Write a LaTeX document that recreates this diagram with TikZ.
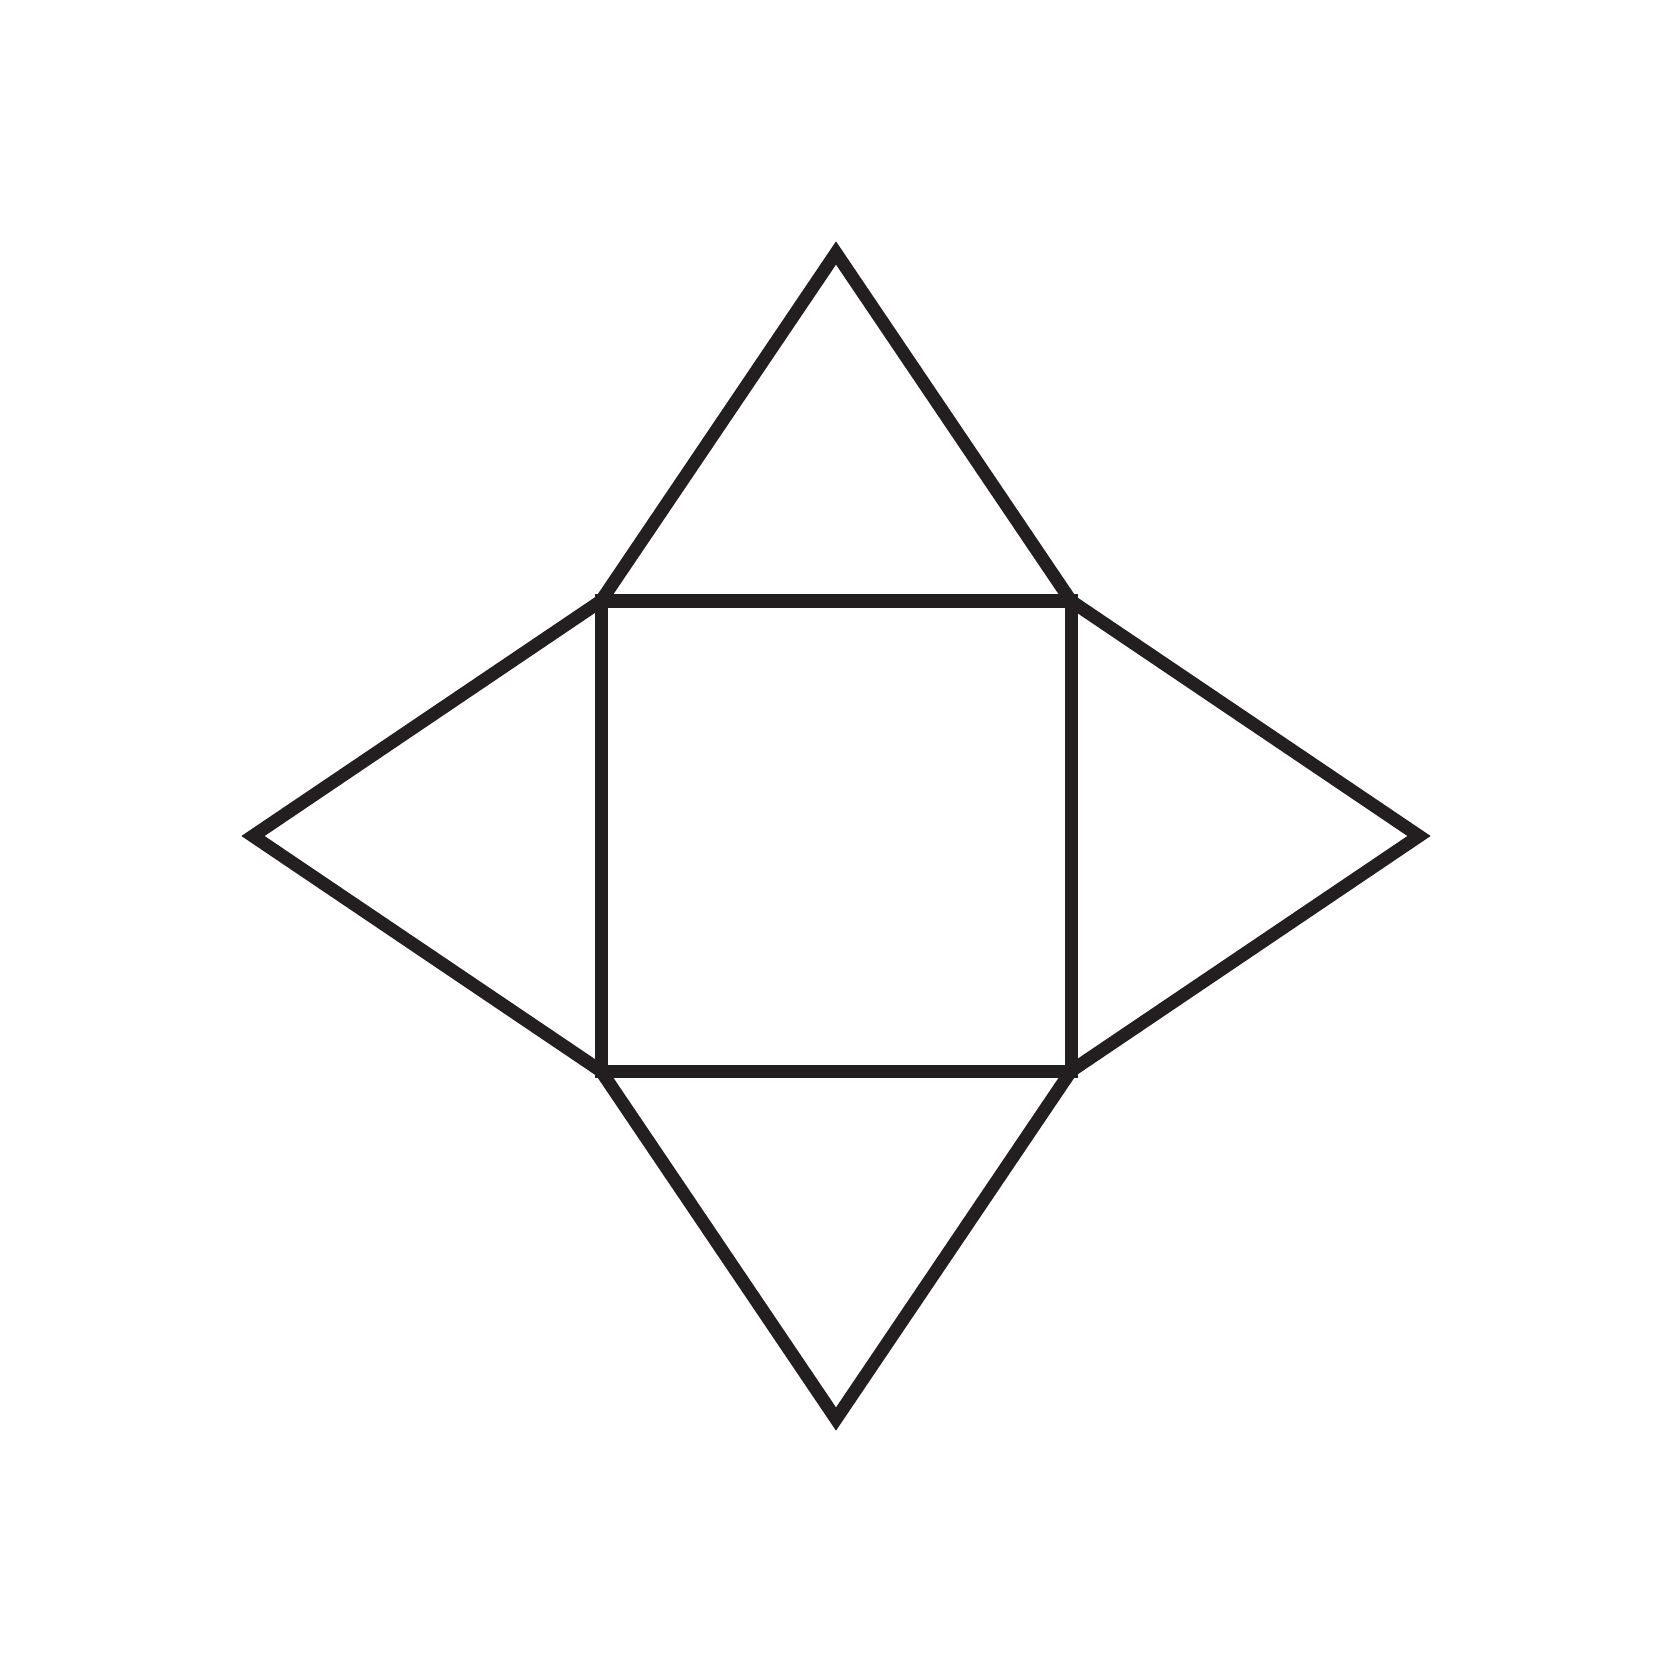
\documentclass[tikz,border=0pt]{standalone}
\definecolor{ink}{HTML}{231F20}
\begin{document}
\begin{tikzpicture}[x=0.01cm,y=-0.01cm,
  edge/.style={draw=ink,line width=0.13cm,line join=miter}]
\useasboundingbox (0,0) rectangle (1673,1673);
\coordinate (tl) at (601,601);
\coordinate (tr) at (1071,601);
\coordinate (br) at (1071,1071);
\coordinate (bl) at (601,1071);
\coordinate (top) at (836,253);
\coordinate (right) at (1419,836);
\coordinate (bottom) at (836,1419);
\coordinate (left) at (253,836);
\draw[edge] (tl) -- (top) -- (tr);
\draw[edge] (tr) -- (right) -- (br);
\draw[edge] (br) -- (bottom) -- (bl);
\draw[edge] (bl) -- (left) -- (tl);
\draw[edge] (tl) -- (tr) -- (br) -- (bl) -- cycle;
\end{tikzpicture}
\end{document}
